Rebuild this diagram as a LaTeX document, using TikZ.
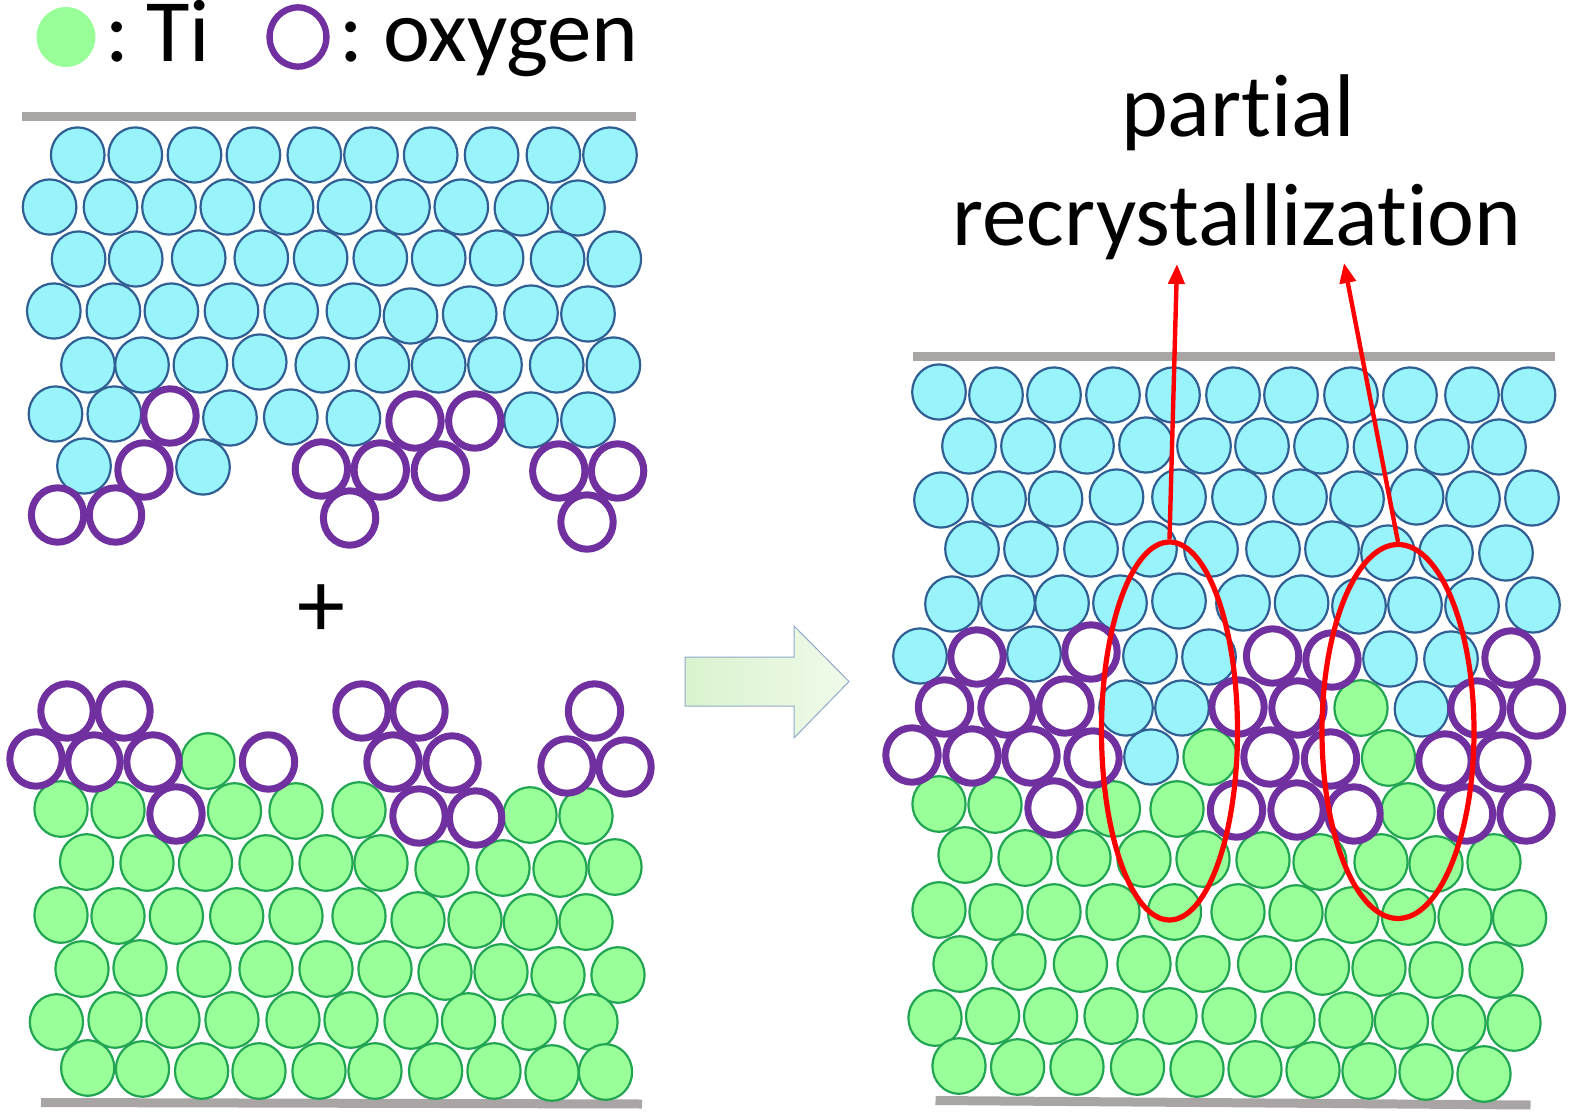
\documentclass[tikz,border=0pt]{standalone}
\usepackage{fontspec}
\setmainfont[Ligatures=NoCommon]{Carlito}
\usetikzlibrary{shapes.geometric,arrows.meta}
\definecolor{cyfill}{HTML}{99F3FB}
\definecolor{cyline}{HTML}{2F5F93}
\definecolor{grfill}{HTML}{99FF99}
\definecolor{grline}{HTML}{22A552}
\definecolor{oxline}{HTML}{7030A0}
\definecolor{barc}{HTML}{A9A5A5}
\definecolor{redc}{HTML}{FF0000}
\definecolor{arrl}{HTML}{DAF2CE}
\definecolor{arrr}{HTML}{F0FBEA}
\definecolor{arrb}{HTML}{8FA9C9}
\tikzset{
 cy/.style={fill=cyfill,draw=cyline,line width=1.1pt},
 gr/.style={fill=grfill,draw=grline,line width=1.1pt},
 ox/.style={fill=white,draw=oxline,line width=3.5pt},
 bar/.style={draw=barc},
 redring/.style={ellipse,draw=redc,line width=2.6pt,inner sep=0pt},
 redarrow/.style={draw=redc,line width=2.2pt,-{Triangle[length=10pt,width=8pt,fill=redc]}},
 big/.style={font=\fontsize{44.5}{50}\selectfont,inner sep=0pt,text=black},
}
\newcommand{\cyc}[1]{\foreach \x/\y in {#1} \path[cy] (\x,\y) ellipse [x radius=13.4pt,y radius=13.8pt];}
\newcommand{\grc}[1]{\foreach \x/\y in {#1} \path[gr] (\x,\y) ellipse [x radius=13.3pt,y radius=13.9pt];}
\newcommand{\oxc}[1]{\foreach \x/\y in {#1} \path[ox] (\x,\y) ellipse [x radius=13.1pt,y radius=13.6pt];}
\begin{document}
\begin{tikzpicture}[x=0.5pt,y=-0.5pt]
\useasboundingbox (0,0) rectangle (1570,1113);
% legend
\path[fill=grfill] (66,37) ellipse [x radius=14.7pt,y radius=15pt];
\path[draw=oxline,fill=white,line width=3.2pt] (298,37) ellipse [x radius=14.2pt,y radius=14.8pt];
\node[big,anchor=base west] (tiT) at (105,62) {:\kern-1.5pt\ Ti};
\node[big,anchor=base west] (oxT) at (339,62) {:\ oxygen};
% bars
\draw[bar,line width=4.5pt] (22,117) -- (636,117);
\draw[bar,line width=4.5pt] (41,1102.5) -- (642,1104);
\draw[bar,line width=4.2pt] (913,356.5) -- (1555,356.5);
\draw[bar,line width=4.5pt] (935.5,1100.5) -- (1530.5,1105);
% top-left cyan
\cyc{77.7/155,135.3/155,194.5/155,253.4/155,314.3/155,371/155,430.7/155,491.6/155,553.4/155,610/155}
\cyc{49.6/207,110.5/207,169/207,227.3/207,286.6/207,344.5/207,403/207,461.3/207,521.4/208,578/208}
\cyc{78.6/259,135.7/259,198.7/258,261.3/258,320.6/258,380.3/258,438.7/258,496.6/258,557.6/259,614.3/259}
\cyc{53.8/311,113.4/311,171.4/311,231.5/311,291.2/311,353.4/311,410.5/316,469.7/314,531/313,588/314}
\cyc{88/365,142/365,200.4/365,259.7/362,322.3/365,382.4/365,438.7/365,495/365,556.7/365,613.4/365}
\cyc{55.5/414,114.3/414,230/418,290.8/417,353.4/418,531/420,588/420}
\cyc{84/466,203/467}
\oxc{170/416,415/421,474.8/421}
\oxc{144/470,321.4/469,380.3/470,440.3/471,558.8/471,617.6/471}
\oxc{57.6/515,115.5/515,349.6/518,587/522}
% plus
\node[font=\fontsize{48}{50}\selectfont,inner sep=0pt] (plusT) at (321,611) {+};
% bottom-left green
\grc{61/809,118/810,234.5/811,296/811,359/810,530/815,586/816}
\grc{86.6/862,147/863,205.5/863,266/863,326/863,381/863,442/869,503/868,560/869,615/867}
\grc{61/915,118/916,176.4/916,236.7/916,296/916,359/916,418/920,475/920,530.4/922,586/922}
\grc{82/969,140/968,204/969,266/969,326/969,385/969,445/972,501/972,558/975,618/975}
\grc{56.4/1022,115/1020,173/1020,232/1020,293/1020,351/1020,411/1021,468.5/1021,529/1022,591/1022}
\grc{87.7/1068,142.5/1069,201.6/1071,259/1071,319/1071,375/1071,435.6/1071,494/1071,552/1073,605.5/1072}
\grc{208/761}
\oxc{67/711,124/711,36/759,94/762,153/762,268.5/762,362/711,419/711,393/762,452/763,594.5/711,567/766,625/767}
\oxc{176/814,419/816,475.6/818}
% fat arrow
\path[draw=arrb,line width=0.5pt,left color=arrl,right color=arrr]
 (685,657) -- (794,657) -- (794,626) -- (849,681.5) -- (794,738) -- (794,706) -- (685,706) -- cycle;
% right panel
\cyc{939/392,996/395,1054/395,1113/395,1173/395,1233/395,1291/395,1351/395,1410/395,1472/395,1528.5/395}
\cyc{969/446,1028/446,1087/446,1146/445,1204/446,1262/446,1321/446,1380.5/447,1442/447,1499/447}
\cyc{941/500,999/499,1055.5/499,1116.5/497,1179/497,1239/497,1300/497,1357/499,1416.6/497,1473/499,1532/498}
\cyc{972/549,1031/549,1091/549,1150/549,1211/549,1273/549,1332/549,1388/553,1446/553,1506/553}
\cyc{952/604,1008/603,1062/603,1120/603,1179/601,1243/603,1301.6/603,1359/606,1415/605,1472/606,1533/605}
\cyc{920/656,1034/654,1150/656,1209/657,1390/659,1451/659}
\cyc{1126/708,1182/708,1421.5/709}
\cyc{1151/757}
\grc{1361/708}
\grc{1210/757,1388.5/758}
\grc{939/804,995/805,1113.4/809,1177/809,1408/811}
\grc{965/855,1025/858,1084/858,1144/859,1203/859,1263/860,1320/862,1381/862,1436/864,1494/862}
\grc{939/910,996/912,1054/912,1113/912,1174.5/912,1238/912,1296/913,1352/915,1408.5/917,1465/917,1519.6/918}
\grc{960/964,1019/962,1080.4/964,1144/964,1203/964,1264.6/964,1322.5/967,1379/968,1436/970,1496/970}
\grc{935/1018,992.6/1016,1050.6/1016,1111/1016,1170/1016,1229/1016,1288/1020,1346/1020,1401.4/1021,1459/1023,1514/1023}
\grc{959/1066,1017.6/1067,1077/1067,1137.5/1067,1197/1069,1255/1069,1313/1070,1369/1071,1426/1072,1484/1074}
\oxc{977/657,1091/652,1272.6/656,1332/660,1511/658}
\oxc{944.5/707,1007/708,1065/706,1238/707,1298/708,1477/708,1536.5/709}
\oxc{912/755,972/756,1031/756,1093/758,1270/757,1330.5/759,1445/761,1502/762}
\oxc{1054/808,1236.5/810,1297/810,1354/814,1466.5/814,1526/814}
% red rings and arrows
\node[redring,minimum width=68pt,minimum height=189pt] (e1) at (1169.5,731) {};
\node[redring,minimum width=76pt,minimum height=187pt] (e2) at (1398,731.5) {};
\coordinate (a1) at (1177,264);
\coordinate (a2) at (1344,263);
\draw[redarrow] (e1.north) -- (a1);
\draw[redarrow] (e2.north) -- (a2);
% labels
\node[big,anchor=base] (lab1) at (1238,137) {partial};
\node[big,anchor=base] (lab2) at (1237,245) {recrystallization};
\end{tikzpicture}
\end{document}
